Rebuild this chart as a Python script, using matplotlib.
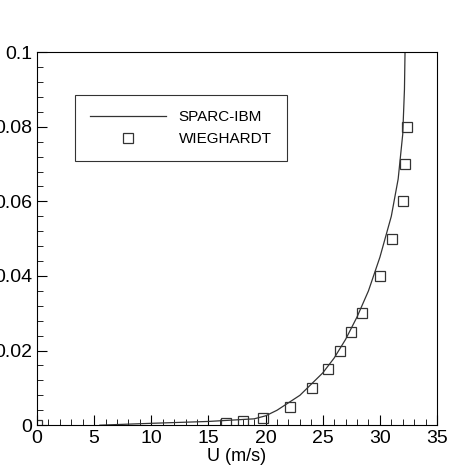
import matplotlib.pyplot as plt
from matplotlib.ticker import MultipleLocator

plt.rcParams["font.family"] = ["Liberation Sans", "DejaVu Sans"]

# SPARC-IBM velocity profile
line_u = [5.5, 10, 15, 19, 20, 21, 22, 23, 24, 25, 26, 27, 28, 29, 30, 31, 31.6, 32, 32.15, 32.2]
line_y = [0.0, 0.0005, 0.001, 0.0017, 0.0025, 0.004, 0.006, 0.008, 0.011, 0.014, 0.018,
          0.023, 0.029, 0.036, 0.045, 0.056, 0.066, 0.078, 0.09, 0.1]

# Wieghardt experiment
exp_u = [0.0, 16.5, 18.0, 19.8, 22.1, 24.1, 25.5, 26.5, 27.5, 28.4, 30.0, 31.1, 32.0, 32.2, 32.4]
exp_y = [0.0, 0.0005, 0.001, 0.002, 0.005, 0.01, 0.015, 0.02, 0.025, 0.03, 0.04, 0.05,
         0.06, 0.07, 0.08]

fig = plt.figure(figsize=(4.74, 4.74), dpi=100)
ax = fig.add_axes([0.078, 0.103, 0.844, 0.787])

ax.plot(line_u, line_y, color="#333333", lw=0.9, label="SPARC-IBM")
ax.plot(exp_u, exp_y, ls="none", marker="s", ms=7, mfc="none", mec="#333333", mew=0.9,
        label="WIEGHARDT")

ax.set_xlim(0, 35)
ax.set_ylim(0, 0.1)
ax.xaxis.set_major_locator(MultipleLocator(5))
ax.xaxis.set_minor_locator(MultipleLocator(1))
ax.yaxis.set_minor_locator(MultipleLocator(0.004))
ax.set_yticks([0, 0.02, 0.04, 0.06, 0.08, 0.1])
ax.set_yticklabels(["0", "0.02", "0.04", "0.06", "0.08", "0.1"])
ax.tick_params(which="both", direction="in", top=False, right=False, labelsize=14)
ax.tick_params(which="major", length=7)
ax.tick_params(which="minor", length=4)
ax.set_xlabel("U (m/s)", fontsize=13, labelpad=1)
ax.set_ylabel("Y (m)", fontsize=13, labelpad=4)

leg = ax.legend(loc="upper left", bbox_to_anchor=(0.075, 0.905), fontsize=11, frameon=True,
                fancybox=False, edgecolor="black", handlelength=5, borderpad=1.0,
                labelspacing=0.5)
leg.get_frame().set_linewidth(0.8)

fig.savefig("out.png", dpi=100)
